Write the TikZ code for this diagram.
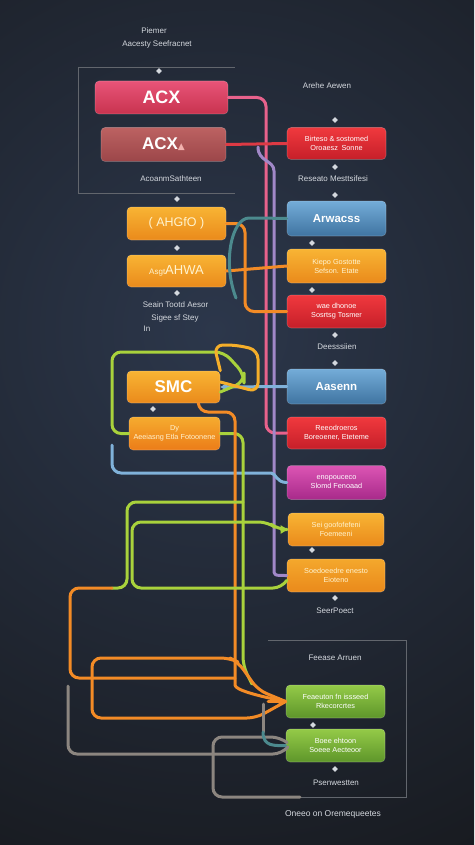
\documentclass[tikz,border=0pt]{standalone}
\usepackage{fontspec}
\setmainfont{Liberation Sans}
\newfontfamily\dejavu{DejaVu Sans}
\usetikzlibrary{shapes.geometric,arrows.meta}
\definecolor{bgdark}{HTML}{16181C}
\definecolor{bgmid}{HTML}{2C374B}
\definecolor{labelc}{HTML}{D4D8DE}
\definecolor{framec}{HTML}{62666D}
\definecolor{pinkT}{HTML}{E85478}
\definecolor{pinkB}{HTML}{C8334F}
\definecolor{roseT}{HTML}{BC6262}
\definecolor{roseB}{HTML}{9C4649}
\definecolor{redT}{HTML}{F0393E}
\definecolor{redB}{HTML}{C61F29}
\definecolor{blueT}{HTML}{74ACD8}
\definecolor{blueB}{HTML}{3F74A1}
\definecolor{orT}{HTML}{F8B434}
\definecolor{orB}{HTML}{EA8A1B}
\definecolor{magT}{HTML}{DC55B4}
\definecolor{magB}{HTML}{A82A8A}
\definecolor{grT}{HTML}{94CA48}
\definecolor{grB}{HTML}{5E962A}
\definecolor{pinkline}{HTML}{E8628C}
\definecolor{redline}{HTML}{DD3A44}
\definecolor{lavline}{HTML}{A188C8}
\definecolor{orline}{HTML}{F38B26}
\definecolor{yelline}{HTML}{F5AE2A}
\definecolor{tealline}{HTML}{4C8A8E}
\definecolor{limeline}{HTML}{A9D23C}
\definecolor{blueline}{HTML}{80B2DA}
\definecolor{grayline}{HTML}{8C8680}
\definecolor{cream}{HTML}{FFF3CF}
\definecolor{acxtri}{HTML}{F2B2AE}
\begin{document}
\begin{tikzpicture}[x=1pt,y=-1pt,
  lbl/.style={text=labelc, font=\fontsize{8}{9.5}\selectfont, inner sep=0pt},
  dia/.style={diamond, fill=labelc, minimum size=6pt, inner sep=0pt},
  box/.style={rounded corners=4pt, align=center, text=white, inner sep=1pt,
    draw=white, draw opacity=0.22, line width=0.6pt,
    font=\fontsize{7.3}{9}\selectfont},
  rbox/.style={box, top color=redT, bottom color=redB, minimum width=99pt},
  bbox/.style={box, top color=blueT, bottom color=blueB, minimum width=99pt,
    font=\bfseries\fontsize{11.5}{12}\selectfont},
  obox/.style={box, top color=orT, bottom color=orB, text=cream},
  mbox/.style={box, top color=magT, bottom color=magB, minimum width=99pt},
  gbox/.style={box, top color=grT, bottom color=grB, minimum width=99pt},
  conn/.style={line width=3pt, line cap=round, line join=round, rounded corners=9pt},
  tip/.style={-{Triangle[length=7pt,width=8pt]}},
  frameln/.style={draw=framec, line width=0.7pt}
]
\useasboundingbox (0,0) rectangle (474,845);
\fill[bgdark] (0,0) rectangle (474,845);
\begin{scope}
\clip (0,0) rectangle (474,845);
\shade[inner color=bgmid, outer color=bgdark] (215,330) circle (640pt);
\end{scope}

% frames
\draw[frameln] (235,67) -- (78,67) -- (78,193) -- (235,193);
\draw[frameln] (268,640) -- (406,640) -- (406,797) -- (300,797);

% texts
\node[lbl] (t1) at (154,31) {Piemer};
\node[lbl] (t2) at (157,44) {Aacesty Seefracnet};
\node[lbl] (t3) at (171,179) {AcoanmSathteen};
\node[lbl] (t4) at (327,86) {Arehe Aewen};
\node[lbl] (t5) at (333,179) {Reseato Mesttsifesi};
\node[lbl] (t6) at (175.5,305) {Seain Tootd Aesor};
\node[lbl] (t7) at (175,318) {Sigee sf Stey};
\node[lbl] (t8) at (147,329) {In};
\node[lbl] (t9) at (337,347) {Deesssiien};
\node[lbl] (t10) at (335,611) {SeerPoect};
\node[lbl] (t11) at (335,658) {Feease Arruen};
\node[lbl] (t12) at (336,783) {Psenwestten};
\node[lbl, font=\fontsize{8.5}{10}\selectfont] (t13) at (333,814) {Oneeo on Oremequeetes};

% diamonds
\foreach \p [count=\i] in {(159,71),(177,199),(177,248),(177,293),(335,120),(335,167),(335,195),(312,243),(312,290),(335,335),(335,363),(153,409),(312,550),(335,598),(313,725),(335,769)}
  \node[dia] (d\i) at \p {};

% left boxes
\node[box, top color=pinkT, bottom color=pinkB, minimum width=133pt, minimum height=33pt,
  font=\bfseries\fontsize{18}{18}\selectfont] (acx1) at (161.5,97.5) {ACX};
\node[box, top color=roseT, bottom color=roseB, minimum width=125pt, minimum height=34pt,
  font=\bfseries\fontsize{17}{17}\selectfont] (acx2) at (163.5,144.5) {ACX{\dejavu\fontsize{9}{9}\selectfont\color{acxtri}▲}};
\node[obox, minimum width=99pt, minimum height=33pt, font=\fontsize{12.5}{13}\selectfont] (o1) at (176.5,223.5) {( AHGfO )};
\node[obox, minimum width=99pt, minimum height=32pt, font=\fontsize{13}{13}\selectfont] (o2) at (176.5,271) {{\fontsize{8}{9}\selectfont Asgt}AHWA};
\node[obox, text=white, minimum width=93pt, minimum height=32pt, font=\bfseries\fontsize{17}{17}\selectfont] (smc) at (173.5,387) {SMC};
\node[obox, top color=orT!80!orB, bottom color=orB!90!red, minimum width=91pt, minimum height=33pt] (dy) at (174.5,433.5) {Dy\\Aeeiasng Etla Fotoonene};

% right boxes
\node[rbox, minimum height=32pt] (r1) at (336.5,143.5) {Birteso \& sostomed\\Oroaesz\enspace Sonne};
\node[bbox, minimum height=35pt] (r2) at (336.5,218.5) {Arwacss};
\node[obox, minimum width=99pt, minimum height=34pt] (r3) at (336.5,266) {Kiepo Gostotte\\Sefson. Etate};
\node[rbox, minimum height=33pt] (r4) at (336.5,311.5) {wae dhonoe\\Sosrtsg Tosmer};
\node[bbox, minimum height=35pt] (r5) at (336.5,386.5) {Aasenn};
\node[rbox, minimum height=32pt] (r6) at (336.5,433) {Reeodroeros\\Boreoener, Eteteme};
\node[mbox, minimum height=34pt] (r7) at (336.5,482.5) {enopouceco\\Slomd Fenoaad};
\node[obox, minimum width=96pt, minimum height=33pt] (r8) at (336,529.5) {Sei goofofefeni\\Foemeeni};
\node[obox, top color=orT!70!orB, minimum width=98pt, minimum height=33pt] (r9) at (336,575.5) {Soedoeedre enesto\\Eioteno};
\node[gbox, minimum height=33pt] (g1) at (335.5,701.5) {Feaeuton fn issseed\\Rkecorcrtes};
\node[gbox, minimum height=33pt] (g2) at (335.5,745.5) {Boee ehtoon\\Soeee Aecteoor};

% free ends
\coordinate (lavs) at (258,147);
\coordinate (teals) at (236,298);
\coordinate (bls) at (112,445);
\coordinate (limA) at (243,502);
\coordinate (grs) at (68,686);
\coordinate (grv) at (263,704);
\coordinate (orj) at (112,588);

% connectors
\draw[conn, draw=pinkline] (acx1.east) -- (266,97.5) -- (266,433) -- (r6.west);
\draw[conn, draw=redline] (acx2.east) -- (r1.west);
\draw[conn, draw=lavline] (lavs) .. controls (258,162) and (274,160) .. (274,180) -- (274,560) .. controls (274,575.5) .. (r9.west);
\draw[conn, draw=orline] (o1.east) -- (245,223.5) -- (245,311.5) -- (r4.west);
\draw[conn, draw=orline] (o2.east) -- (r3.west);
\draw[conn, draw=tealline] (teals) .. controls (222,262) and (232,218) .. (258,218) -- (r2.west);
\draw[conn, draw=blueline, tip] (r5.west) -- (smc.east);
\draw[conn, draw=limeline] (dy.west) -- (112,433.5) -- (112,352) -- (224,352) -- (244,374) -- (244,382) -- ([yshift=-5pt]smc.east);
\draw[conn, draw=yelline] ([yshift=5pt]smc.east) -- (258,392) -- (258,350) -- (236,345) -- (214,345) -- (smc.north east);
\draw[conn, draw=blueline] (bls) -- (112,473) -- (262,473) .. controls (276,473) and (276,482.5) .. (r7.west);
\draw[conn, draw=limeline] (dy.east) -- (243,433.5) -- (243,666) -- (252,684);
\draw[conn, draw=orline] ([xshift=-22pt]smc.south east) -- (199,412) -- (235,412) -- (235,676) .. controls (235,690) and (258,696) .. (g1.west);
\draw[conn, draw=limeline] (limA) -- (127,502) -- (127,588) -- (orj);
\draw[conn, draw=orline] (orj) -- (70,588) -- (70,678) -- (235,678);
\draw[conn, draw=limeline, tip] ([yshift=-5pt]r9.west) -- (282,588) -- (132,588) -- (132,522) -- (268,522) -- (278,529.5) -- (r8.west);
\draw[conn, draw=orline] (g1.west) -- (258,690) -- (238,662) -- (230,658) -- (92,658) -- (92,718) -- (256,718) -- (g1.west);
\draw[conn, draw=orline, tip, rounded corners=0pt] (268,701.5) -- (g1.west);
\draw[conn, draw=grayline] (grs) -- (68,754) -- (282,754) -- ([yshift=-4pt]g2.west);
\draw[conn, draw=grayline] (300,797) -- (213,797) -- (213,737) -- (280,737) -- ([yshift=4pt]g2.west);
\draw[conn, draw=grayline] (grv) -- (263,732);
\draw[conn, draw=tealline] (263,732) .. controls (263,747) and (275,745.5) .. (g2.west);
\end{tikzpicture}
\end{document}
